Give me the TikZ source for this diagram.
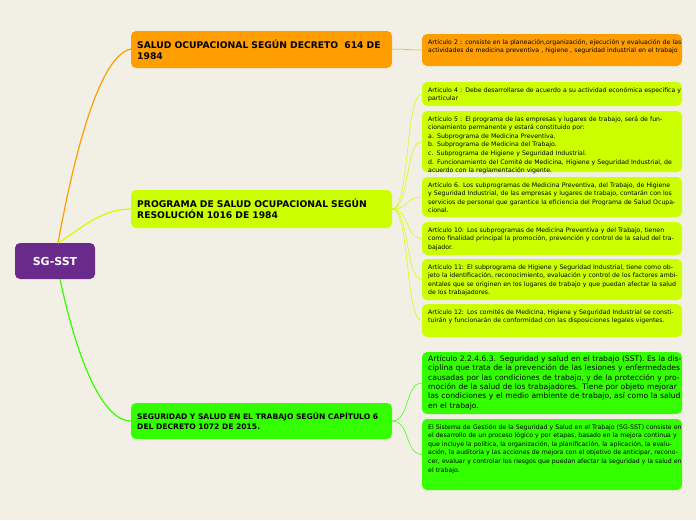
\documentclass[tikz,border=0pt]{standalone}
\usepackage{fontspec}
\setmainfont{DejaVu Sans}
\definecolor{bg}{HTML}{F2F0E4}
\definecolor{purp}{HTML}{6A2A8C}
\definecolor{orng}{HTML}{FF9E00}
\definecolor{lime}{HTML}{CCFF00}
\definecolor{grn}{HTML}{33FF00}
\begin{document}
\begin{tikzpicture}[x=1pt,y=-1pt,
  box/.style={rounded corners=5pt,inner sep=0pt},
  leaftxt/.style={anchor=north west,align=left,text width=254pt,inner sep=0pt,font=\fontsize{6.2}{8.6}\selectfont},
  br/.style={anchor=west,align=left,text width=250pt,inner sep=0pt,font=\fontsize{9.2}{11}\selectfont\bfseries}]
\fill[bg] (0,0) rectangle (696,520);
\useasboundingbox (0,0) rectangle (696,520);
% root
\fill[purp,rounded corners=5pt] (15,243) rectangle (95,279);
\node[text=white,font=\fontsize{11}{13}\selectfont\bfseries] (root) at (55,261) {SG-SST};
% branches
\fill[orng,box] (131,31) rectangle (392,68);
\node[br] (b1) at (137,49.5) {SALUD OCUPACIONAL SEGÚN DECRETO\ \ 614 DE 1984};
\fill[lime,box] (131,190) rectangle (392,228);
\node[br] (b2) at (137,209) {PROGRAMA DE SALUD OCUPACIONAL SEGÚN RESOLUCIÓN 1016 DE 1984};
\fill[grn,box] (131,403) rectangle (392,439);
\node[br,font=\fontsize{7.6}{10}\selectfont\bfseries] (b3) at (137,421) {SEGURIDAD Y SALUD EN EL TRABAJO SEGÚN CAPÍTULO 6 DEL DECRETO 1072 DE 2015.};
\coordinate (rt) at (58,243);
\coordinate (rb) at (60,279);
\coordinate (b1l) at (131,49);
\coordinate (b2l) at (131,209);
\coordinate (b3l) at (131,421);
\draw[orng,line width=1.2pt] (rt) .. controls (75,150) and (100,55) .. (b1l);
\draw[lime,line width=1.2pt] (rt) .. controls (80,230) and (100,209) .. (b2l);
\draw[grn,line width=1.2pt] (rb) .. controls (75,350) and (100,421) .. (b3l);
% leaves
\newcommand{\leaf}[6]{% name,color,top,bottom,branchy,text
  \fill[#2,box] (422,#3) rectangle (682,#4);
  \coordinate (#1l) at (422,{(#3+#4)/2});
  \draw[#2,line width=0.5pt] (392,#5) .. controls (410,#5) and (405,{(#3+#4)/2}) .. (#1l);
  \node[leaftxt] (#1) at (428,#3+5) {#6};}
\leaf{l1}{orng}{34}{66}{49}{Artículo 2 : consiste en la planeación,organización, ejecución y evaluación de las actividades de medicina preventiva , higiene , seguridad industrial en el trabajo}
\leaf{l2}{lime}{82}{106}{209}{Articulo 4 : Debe desarrollarse de acuerdo a su actividad económica especifica y particular}
\leaf{l3}{lime}{111}{172}{209}{Artículo 5 : El programa de las empresas y lugares de trabajo, será de funcionamiento permanente y estará constituido por:\\ a. Subprograma de Medicina Preventiva.\\ b. Subprograma de Medicina del Trabajo.\\ c. Subprograma de Higiene y Seguridad Industrial.\\ d. Funcionamiento del Comité de Medicina, Higiene y Seguridad Industrial, de acuerdo con la reglamentación vigente.}
\leaf{l4}{lime}{177}{217}{209}{Artículo 6. Los subprogramas de Medicina Preventiva, del Trabajo, de Higiene y Seguridad Industrial, de las empresas y lugares de trabajo, contarán con los servicios de personal que garantice la eficiencia del Programa de Salud Ocupacional.}
\leaf{l5}{lime}{222}{255}{209}{Artículo 10: Los subprogramas de Medicina Preventiva y del Trabajo, tienen como finalidad principal la promoción, prevención y control de la salud del trabajador.}
\leaf{l6}{lime}{259}{300}{209}{Artículo 11: El subprograma de Higiene y Seguridad Industrial, tiene como objeto la identificación, reconocimiento, evaluación y control de los factores ambientales que se originen en los lugares de trabajo y que puedan afectar la salud de los trabajadores.}
\leaf{l7}{lime}{304}{337}{209}{Artículo 12: Los comités de Medicina, Higiene y Seguridad Industrial se constituirán y funcionarán de conformidad con las disposiciones legales vigentes.}
\fill[grn,box] (422,352) rectangle (682,414);
\coordinate (l8l) at (422,383);
\draw[grn,line width=0.5pt] (392,421) .. controls (410,421) and (405,383) .. (l8l);
\node[leaftxt,font=\fontsize{7.6}{9.4}\selectfont] (l8) at (428,355) {Artículo 2.2.4.6.3. Seguridad y salud en el trabajo (SST). Es la disciplina que trata de la prevención de las lesiones y enfermedades causadas por las condiciones de trabajo, y de la protección y promoción de la salud de los trabajadores. Tiene por objeto mejorar las condiciones y el medio ambiente de trabajo, así como la salud en el trabajo.};
\leaf{l9}{grn}{419}{490}{421}{El Sistema de Gestión de la Seguridad y Salud en el Trabajo (SG-SST) consiste en el desarrollo de un proceso lógico y por etapas, basado en la mejora continua y que incluye la política, la organización, la planificación, la aplicación, la evaluación, la auditoría y las acciones de mejora con el objetivo de anticipar, reconocer, evaluar y controlar los riesgos que puedan afectar la seguridad y la salud en el trabajo.}
\end{tikzpicture}
\end{document}
